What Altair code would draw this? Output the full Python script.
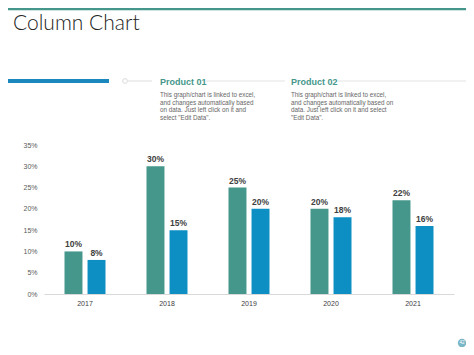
import altair as alt
import pandas as pd

years = ["2017", "2018", "2019", "2020", "2021"]
product_01 = [10, 30, 25, 20, 22]
product_02 = [8, 15, 20, 18, 16]
series_names = ["Product 01", "Product 02"]
y_ticks = [0, 5, 10, 15, 20, 25, 30, 35]
title_text = "Column Chart"
desc_01 = ["This graph/chart is linked to excel,", "and changes automatically based",
           "on data. Just left click on it and", "select \"Edit Data\"."]
desc_02 = ["This graph/chart is linked to excel,", "and changes automatically based on",
           "data. Just left click on it and select", "\"Edit Data\"."]
page_no = "42"

TEAL = "#45968b"
BLUE = "#0e8fc3"

rows = []
for i, yr in enumerate(years):
    rows.append({"year": yr, "series": series_names[0], "value": product_01[i]})
    rows.append({"year": yr, "series": series_names[1], "value": product_02[i]})
df = pd.DataFrame(rows)

# plot area origin in page coords: (44, 145)
OX, OY = 44, 145
def px(X):
    return X - OX
def py(Y):
    return Y - OY

base = alt.Chart(df).encode(
    x=alt.X("year:N", sort=years, title=None,
            scale=alt.Scale(paddingInner=0.5, paddingOuter=0.25),
            axis=alt.Axis(labelAngle=0, ticks=False, domain=True, domainColor="#d9d9d9",
                          labelFont="Liberation Sans", labelFontSize=7, labelColor="#404040",
                          labelPadding=5, grid=False)),
    xOffset=alt.XOffset("series:N", sort=series_names,
                        scale=alt.Scale(paddingInner=0.22, paddingOuter=0)),
    y=alt.Y("value:Q", title=None,
            scale=alt.Scale(domain=[0, 35], nice=False),
            axis=alt.Axis(values=y_ticks, labelExpr="datum.value + '%'", domain=False,
                          ticks=False, grid=False, labelFont="Liberation Sans",
                          labelFontSize=7, labelColor="#595959", labelPadding=7)),
)

bars = base.mark_bar().encode(
    color=alt.Color("series:N", sort=series_names,
                    scale=alt.Scale(domain=series_names, range=[TEAL, BLUE]), legend=None)
)
labels = base.mark_text(dy=-7, font="Liberation Sans", fontSize=8.5, fontWeight="bold",
                        color="#404040").transform_calculate(
    lbl="datum.value + '%'").encode(text="lbl:N")

one = pd.DataFrame({"k": [0]})

def rule(x1, x2, y, color, width):
    return alt.Chart(one).mark_rule(color=color, strokeWidth=width).encode(
        x=alt.value(px(x1)), x2=alt.value(px(x2)), y=alt.value(py(y)))

def text(x, y, t, size, color, weight="normal", font="Liberation Sans", baseline="middle", lh=None):
    kw = dict(align="left", baseline=baseline, fontSize=size, color=color,
              fontWeight=weight, font=font)
    if lh is not None:
        kw["lineHeight"] = lh
    return alt.Chart(one).mark_text(**kw).encode(
        x=alt.value(px(x)), y=alt.value(py(y)), text=alt.value(t))

deco = [
    rule(8, 466, 9, TEAL, 2.5),
    text(13, 30, title_text, 21, "#222222", weight=300, font="Lato", baseline="alphabetic"),
    rule(8, 109, 81, "#1a88bd", 4),
    rule(128, 152, 81, "#dddddd", 1),
    alt.Chart(one).mark_point(shape="circle", size=22, color="#cccccc", filled=False,
                              strokeWidth=1).encode(x=alt.value(px(125)), y=alt.value(py(81))),
    text(160, 82, series_names[0], 9, TEAL, weight="bold"),
    rule(206, 285, 81, "#e3e3e3", 1),
    text(291, 82, series_names[1], 9, TEAL, weight="bold"),
    rule(338, 466, 81, "#e3e3e3", 1),
    text(160, 95, desc_01, 6.3, "#666666", lh=7.5),
    text(291, 95, desc_02, 6.3, "#666666", lh=7.5),
    alt.Chart(one).mark_point(shape="circle", size=70, color="#6aaec0", filled=True,
                              opacity=0.9).encode(x=alt.value(px(462)), y=alt.value(py(343))),
    alt.Chart(one).mark_text(fontSize=4.5, color="#ffffff", align="center", baseline="middle").encode(
        x=alt.value(px(462)), y=alt.value(py(343)), text=alt.value(page_no)),
]

chart = alt.layer(bars, labels, *deco).properties(
    width=410, height=149,
    background="white",
    autosize=alt.AutoSizeParams(type="none"),
    padding={"left": 36, "top": 137, "right": 12, "bottom": 53},
).configure_view(strokeWidth=0, stroke="transparent")

chart.save("out.html", embed_options={"renderer": "svg", "actions": False})
